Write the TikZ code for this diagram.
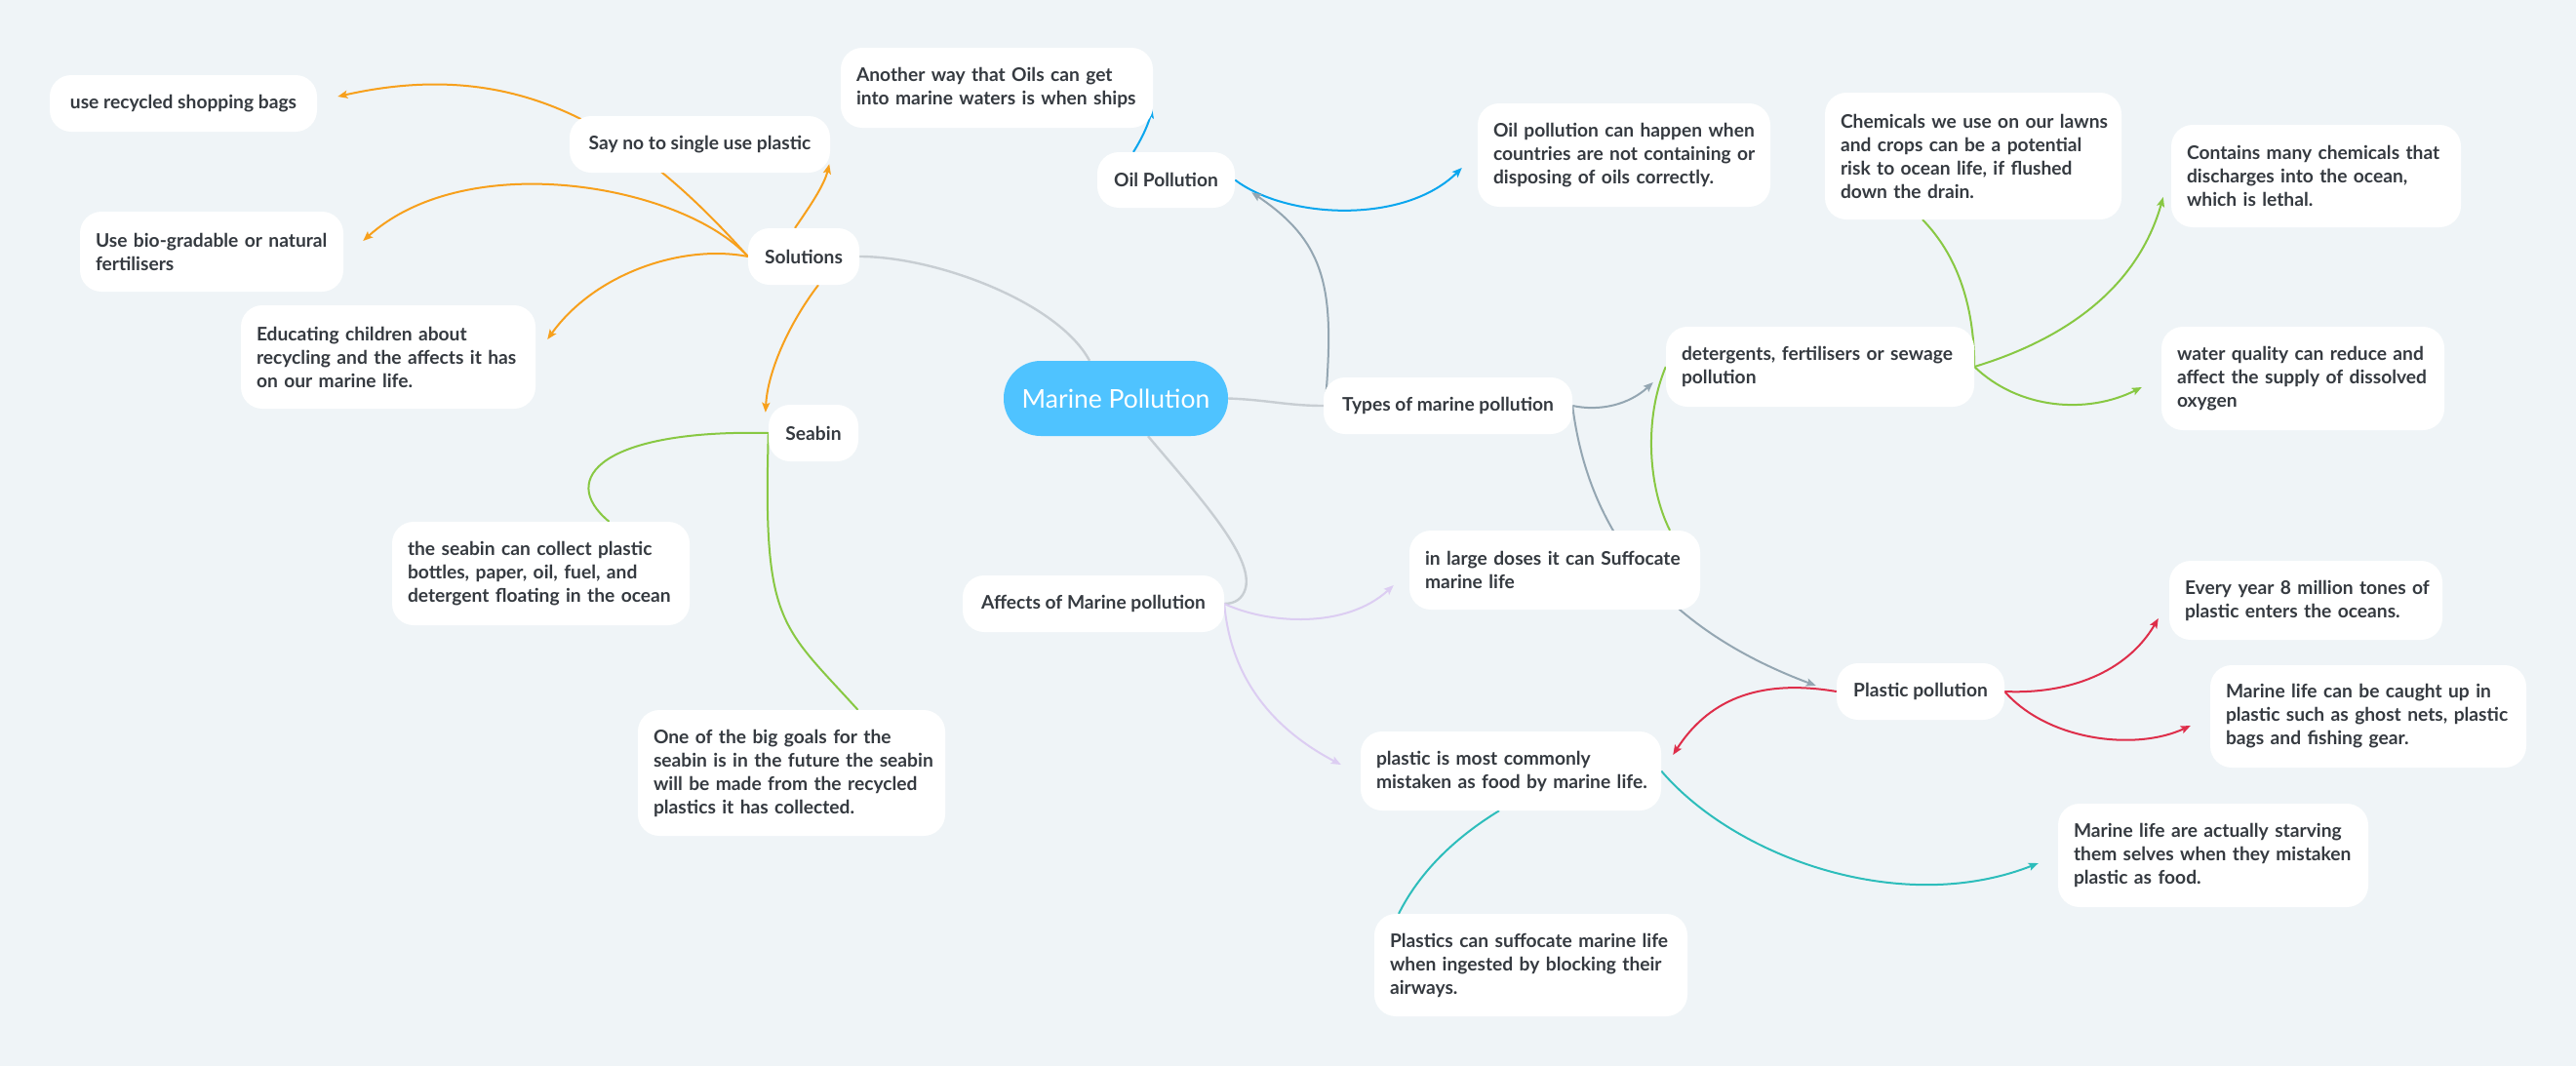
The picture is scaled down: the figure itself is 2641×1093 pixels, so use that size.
\documentclass[tikz,border=0pt]{standalone}
\usepackage{fontspec}
\setmainfont{Lato}
\usetikzlibrary{arrows.meta,calc}
\definecolor{bgc}{HTML}{EFF4F7}
\definecolor{txt}{HTML}{353A40}
\definecolor{mpblue}{HTML}{4FC3FF}
\definecolor{cmain}{HTML}{C8CED3}
\definecolor{corange}{HTML}{F7A01C}
\definecolor{cgreen}{HTML}{88C843}
\definecolor{cblue}{HTML}{0AA6EE}
\definecolor{cslate}{HTML}{94A6B2}
\definecolor{cred}{HTML}{DE2E4A}
\definecolor{cteal}{HTML}{2DBDBB}
\definecolor{clilac}{HTML}{DCCDF2}
\pgfdeclarelayer{bglayer}
\pgfdeclarelayer{edgelayer}
\pgfsetlayers{bglayer,edgelayer,main}
\begin{document}
\begin{tikzpicture}[x=1pt,y=-1pt,
  box/.style={fill=white, rounded corners=22pt, inner xsep=16pt, inner ysep=0pt,
    align=left, text=txt, font=\bfseries\fontsize{19.2}{24}\selectfont},
  sbox/.style={fill=white, rounded corners=22pt, inner xsep=8pt, inner ysep=0pt,
    align=center, text=txt, font=\bfseries\fontsize{19.2}{24}\selectfont},
  rootbox/.style={fill=mpblue, rounded corners=38pt, inner sep=0pt, align=center,
    text=white, font=\fontsize{26.5}{30}\selectfont},
  edge/.style={line width=2pt},
  arr/.style={-{Stealth[length=10pt,width=8pt,inset=2pt]}},
]
\begin{pgfonlayer}{bglayer}
\fill[bgc] (0,0) rectangle (2641,1093);
\end{pgfonlayer}
\path[use as bounding box] (0,0) rectangle (2641,1093);

% root
\node[rootbox, minimum width=230pt, minimum height=77pt] (mp) at (1144,408.5) {Marine Pollution};

% Solutions branch
\node[sbox, minimum width=114pt, minimum height=58pt] (sol) at (824,263) {Solutions};
\node[sbox, minimum width=274pt, minimum height=58pt] (ur) at (188,106) {use recycled shopping bags};
\node[sbox, minimum width=267pt, minimum height=58pt] (sn) at (717.5,148) {Say no to single use plastic};
\node[box, minimum width=270pt, minimum height=82pt, text width=238pt] (ub) at (217,258) {\mbox{Use bio-gradable or natural}\\\mbox{fertilisers}};
\node[box, minimum width=302pt, minimum height=106pt, text width=270pt] (ed) at (398,366) {\mbox{Educating children about}\\\mbox{recycling and the affects it has}\\\mbox{on our marine life.}};
\node[sbox, minimum width=92pt, minimum height=58pt] (sb) at (834,444) {Seabin};
\node[box, minimum width=305pt, minimum height=106pt, text width=273pt] (sc) at (554.5,588) {\mbox{the seabin can collect plastic}\\\mbox{bottles, paper, oil, fuel, and}\\\mbox{detergent floating in the ocean}};
\node[box, minimum width=315pt, minimum height=129pt, text width=283pt] (og) at (811.5,792.5) {\mbox{One of the big goals for the}\\\mbox{seabin is in the future the seabin}\\\mbox{will be made from the recycled}\\\mbox{plastics it has collected.}};

% Oil branch
\node[box, minimum width=320pt, minimum height=82pt, text width=288pt] (aw) at (1022,90) {\mbox{Another way that Oils can get}\\\mbox{into marine waters is when ships}};
\node[sbox, minimum width=141pt, minimum height=57pt] (op) at (1195.5,184.5) {Oil Pollution};
\node[box, minimum width=300pt, minimum height=106pt, text width=268pt] (oc) at (1665,159) {\mbox{Oil pollution can happen when}\\\mbox{countries are not containing or}\\\mbox{disposing of oils correctly.}};

% Types branch
\node[sbox, minimum width=255pt, minimum height=58pt] (ty) at (1484.5,416) {Types of marine pollution};
\node[box, minimum width=316pt, minimum height=82pt, text width=284pt] (de) at (1866,376) {\mbox{detergents, fertilisers or sewage}\\\mbox{pollution}};
\node[box, minimum width=304pt, minimum height=130pt, text width=272pt] (ch) at (2023,160) {\mbox{Chemicals we use on our lawns}\\\mbox{and crops can be a potential}\\\mbox{risk to ocean life, if flushed}\\\mbox{down the drain.}};
\node[box, minimum width=297pt, minimum height=105pt, text width=265pt] (co) at (2374.5,180.5) {\mbox{Contains many chemicals that}\\\mbox{discharges into the ocean,}\\\mbox{which is lethal.}};
\node[box, minimum width=290pt, minimum height=106pt, text width=258pt] (wq) at (2361,388) {\mbox{water quality can reduce and}\\\mbox{affect the supply of dissolved}\\\mbox{oxygen}};
\node[box, minimum width=298pt, minimum height=81pt, text width=266pt] (ld) at (1594,584.5) {\mbox{in large doses it can Suffocate}\\\mbox{marine life}};
\node[sbox, minimum width=172pt, minimum height=58pt] (pp) at (1969,709) {Plastic pollution};
\node[box, minimum width=280pt, minimum height=81pt, text width=248pt] (ey) at (2364,615.5) {\mbox{Every year 8 million tones of}\\\mbox{plastic enters the oceans.}};
\node[box, minimum width=324pt, minimum height=105pt, text width=292pt] (mc) at (2428,734.5) {\mbox{Marine life can be caught up in}\\\mbox{plastic such as ghost nets, plastic}\\\mbox{bags and fishing gear.}};

% Affects branch
\node[sbox, minimum width=268pt, minimum height=58pt] (af) at (1121,619) {Affects of Marine pollution};
\node[box, minimum width=308pt, minimum height=81pt, text width=276pt] (pm) at (1549,790.5) {\mbox{plastic is most commonly}\\\mbox{mistaken as food by marine life.}};
\node[box, minimum width=321pt, minimum height=105pt, text width=289pt] (ps) at (1569.5,989.5) {\mbox{Plastics can suffocate marine life}\\\mbox{when ingested by blocking their}\\\mbox{airways.}};
\node[box, minimum width=318pt, minimum height=106pt, text width=286pt] (ms) at (2269,877) {\mbox{Marine life are actually starving}\\\mbox{them selves when they mistaken}\\\mbox{plastic as food.}};

\begin{pgfonlayer}{edgelayer}
% root connections
\draw[edge, cmain, line width=2.4pt] ($(mp.north)+(-27,0)$) .. controls (1085,310) and (960,263) .. (sol.east);
\draw[edge, cmain, line width=2.4pt] (mp.east) .. controls (1300,410) and (1320,416) .. (ty.west);
\draw[edge, cmain, line width=2.4pt] ($(mp.south)+(33,0)$) .. controls (1230,510) and (1285,570) .. (1277,603) .. controls (1274,614) and (1266,619) .. (af.east);

% Solutions (orange)
\draw[edge, corange, arr] ($(sol.north)+(-9,0)$) .. controls (830,212) and (845,190) .. ($(sn.south east)+(-1,-9)$);
\draw[edge, corange, arr] (sol.west) .. controls (640,120) and (520,60) .. ($(ur.east)+(21,-7)$);
\draw[edge, corange, arr] (sol.west) .. controls (700,190) and (480,150) .. ($(ub.east)+(20,-11)$);
\draw[edge, corange, arr] (sol.west) .. controls (700,250) and (610,280) .. ($(ed.east)+(12,-18)$);
\draw[edge, corange, arr] ($(sol.south)+(15,0)$) .. controls (810,330) and (787,380) .. ($(sb.north west)+(-3,8)$);

% Seabin (green)
\draw[edge, cgreen] (sb.west) .. controls (620,440) and (570,490) .. ($(sc.north)+(70,0)$);
\draw[edge, cgreen] (sb.west) .. controls (782,640) and (800,640) .. ($(og.north)+(68,0)$);

% Oil (blue)
\draw[edge, cblue, arr] ($(op.north)+(-33.5,0)$) .. controls (1172,140) and (1178,125) .. ($(aw.south east)+(-1,-20)$);
\draw[edge, cblue, arr] (op.east) .. controls (1320,225) and (1440,230) .. ($(oc.west)+(-16,13)$);

% Types (slate)
\draw[edge, cslate, arr] ($(ty.west)+(2,-3)$) .. controls (1368,300) and (1362,250) .. ($(op.south east)+(17,-16)$);
\draw[edge, cslate, arr] (ty.east) .. controls (1640,422) and (1670,415) .. ($(de.west)+(-13,16)$);
\draw[edge, cslate, arr] (ty.east) .. controls (1630,560) and (1720,650) .. ($(pp.west)+(-21,-6)$);

% detergents (green)
\draw[edge, cgreen] (de.east) .. controls (2024,310) and (2005,260) .. ($(ch.south)+(-52,0)$);
\draw[edge, cgreen, arr] (de.east) .. controls (2110,350) and (2190,300) .. ($(co.west)+(-8,21.5)$);
\draw[edge, cgreen, arr] (de.east) .. controls (2070,420) and (2140,425) .. ($(wq.west)+(-20,9)$);
\draw[edge, cgreen] (de.west) .. controls (1685,430) and (1690,500) .. ($(ld.north)+(118,0)$);

% Plastic pollution (red)
\draw[edge, cred, arr] (pp.west) .. controls (1800,695) and (1750,720) .. ($(pm.east)+(12,-16.5)$);
\draw[edge, cred, arr] (pp.east) .. controls (2120,712) and (2180,690) .. ($(ey.west)+(-11,18.5)$);
\draw[edge, cred, arr] (pp.east) .. controls (2100,760) and (2190,770) .. ($(mc.west)+(-20,9.5)$);

% plastic is most (teal)
\draw[edge, cteal] ($(pm.south)+(-12,0)$) .. controls (1490,860) and (1455,895) .. ($(ps.north)+(-135.5,0)$);
\draw[edge, cteal, arr] (pm.east) .. controls (1780,880) and (1950,940) .. ($(ms.west)+(-20,8)$);

% Affects (lilac)
\draw[edge, clilac, arr] (af.east) .. controls (1300,640) and (1380,645) .. ($(ld.west)+(-16,15.5)$);
\draw[edge, clilac, arr] (af.east) .. controls (1262,700) and (1310,750) .. ($(pm.west)+(-20,-6.5)$);
\end{pgfonlayer}
\end{tikzpicture}
\end{document}
